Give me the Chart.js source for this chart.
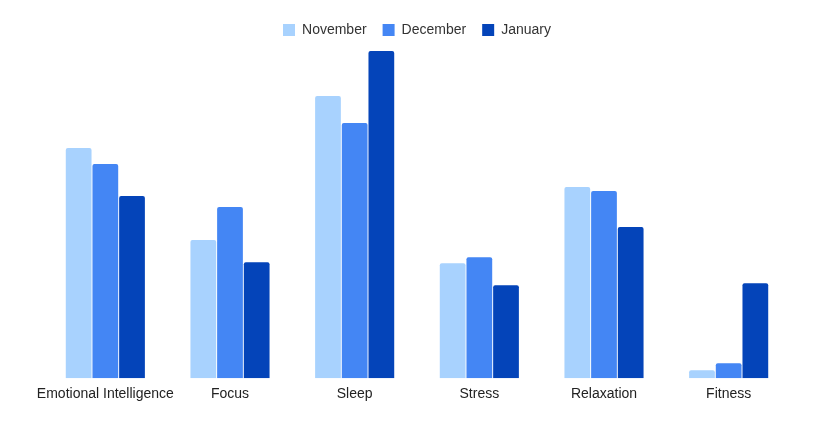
<!DOCTYPE html>
<html>
<head>
<meta charset="utf-8">
<script src="https://cdn.jsdelivr.net/npm/chart.js@4/dist/chart.umd.min.js"></script>
<style>
html,body{margin:0;padding:0;background:#fff;}
#wrap{width:834px;height:422px;position:relative;}
</style>
</head>
<body>
<div id="wrap"><canvas id="c" width="834" height="422"></canvas></div>
<script>
const categories = ["Emotional Intelligence", "Focus", "Sleep", "Stress", "Relaxation", "Fitness"];
const seriesNames = ["November", "December", "January"];
const november = [230, 138, 282, 115, 191, 8];
const december = [214, 171, 255, 121, 187, 15];
const january = [182, 116, 327, 93, 151, 95];
const colors = ["#a8d2fe", "#4486f4", "#0444b9"];

const seriesValues = [november, december, january];

const legendGap = {
  id: 'legendGap',
  beforeInit(chart) {
    const orig = chart.legend.fit;
    chart.legend.fit = function () {
      orig.bind(chart.legend)();
      this.height += 4;
    };
  }
};

new Chart(document.getElementById('c'), {
  type: 'bar',
  data: {
    labels: categories,
    datasets: seriesNames.map((name, i) => ({
      label: name,
      data: seriesValues[i],
      backgroundColor: colors[i],
      borderRadius: 2,
      categoryPercentage: 0.642,
      barPercentage: 0.965
    }))
  },
  options: {
    responsive: false,
    animation: false,
    layout: { padding: { left: 43, right: 43, top: 7, bottom: 19 } },
    plugins: {
      legend: {
        position: 'top',
        labels: {
          boxWidth: 12, boxHeight: 12, padding: 16,
          color: '#333',
          font: { family: "'Liberation Sans', Arial, sans-serif", size: 14 }
        }
      },
      tooltip: { enabled: false }
    },
    scales: {
      x: {
        grid: { display: false },
        border: { display: false },
        ticks: { color: '#222', padding: 0, maxRotation: 0, autoSkip: false,
          font: { family: "'Liberation Sans', Arial, sans-serif", size: 14 } }
      },
      y: {
        display: false,
        min: 0, max: 327
      }
    }
  },
  plugins: [legendGap]
});
</script>
</body>
</html>
